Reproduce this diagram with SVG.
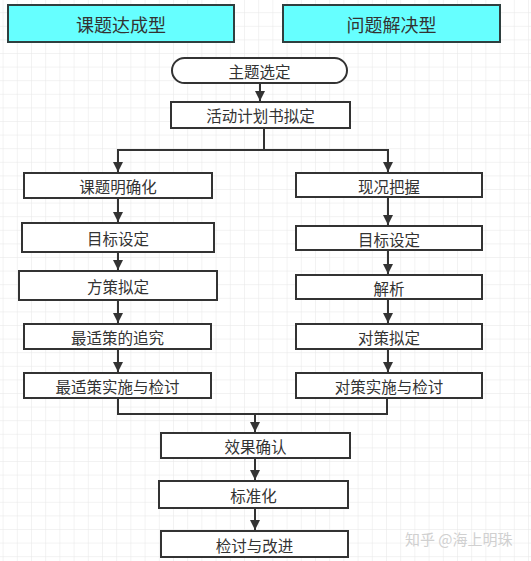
<svg xmlns="http://www.w3.org/2000/svg" width="531" height="561" viewBox="0 0 531 561">
<style>
.box{fill:#fff;stroke:#333;stroke-width:2}
.hdr{fill:#66ffff;stroke:#2f3f3f;stroke-width:2}
.t{font-family:"Noto Sans CJK SC","Noto Sans CJK JP",sans-serif;font-size:15.5px;fill:#333;text-anchor:middle;dominant-baseline:central}
.th{font-family:"Noto Sans CJK SC","Noto Sans CJK JP",sans-serif;font-size:18px;fill:#333;text-anchor:middle;dominant-baseline:central}
.ln{fill:none;stroke:#333;stroke-width:2}
.wm{font-family:"Noto Sans CJK SC","Noto Sans CJK JP",sans-serif;font-size:15px;fill:#d0d0d0;dominant-baseline:central}
</style>
<defs>
<pattern id="grid" x="2.6" y="-1.4" width="14.2" height="13.6" patternUnits="userSpaceOnUse">
<path d="M0 0H14.2M0 0V13.6" fill="none" stroke="#e6e6e6" stroke-width="1"/>
</pattern>
<marker id="ah" viewBox="0 0 10 10" refX="10" refY="5" markerWidth="5" markerHeight="5" markerUnits="strokeWidth" orient="auto">
<path d="M0 0L10 5L0 10Z" fill="#333"/>
</marker>
</defs>
<rect width="531" height="561" fill="#fff"/>
<rect width="531" height="561" fill="url(#grid)"/>

<g id="connectors">
<path class="ln" d="M260 83V101" marker-end="url(#ah)"/>
<path class="ln" d="M264 128V150H118V172" marker-end="url(#ah)"/>
<path class="ln" d="M264 150H388V172" marker-end="url(#ah)"/>
<path class="ln" d="M118 198V222" marker-end="url(#ah)"/>
<path class="ln" d="M118 252V270" marker-end="url(#ah)"/>
<path class="ln" d="M118 300V323" marker-end="url(#ah)"/>
<path class="ln" d="M118 349V372" marker-end="url(#ah)"/>
<path class="ln" d="M388 197V225" marker-end="url(#ah)"/>
<path class="ln" d="M388 250V274" marker-end="url(#ah)"/>
<path class="ln" d="M388 299V323" marker-end="url(#ah)"/>
<path class="ln" d="M388 349V372" marker-end="url(#ah)"/>
<path class="ln" d="M118 398V414H387V398"/>
<path class="ln" d="M255 414V432" marker-end="url(#ah)"/>
<path class="ln" d="M255 458V480" marker-end="url(#ah)"/>
<path class="ln" d="M255 508V530" marker-end="url(#ah)"/>
</g>

<g id="hdr-left"><rect class="hdr" x="8" y="5" width="226" height="37"/><text class="th" x="121" y="24">课题达成型</text></g>
<g id="hdr-right"><rect class="hdr" x="283" y="5" width="217" height="37"/><text class="th" x="391.5" y="24">问题解决型</text></g>

<g id="n-theme"><rect class="box" x="172" y="58" width="175" height="25" rx="12.5"/><text class="t" x="259.5" y="71">主题选定</text></g>
<g id="n-plan"><rect class="box" x="171" y="102" width="179" height="26"/><text class="t" x="260.5" y="115">活动计划书拟定</text></g>

<g id="l1"><rect class="box" x="24" y="173" width="188" height="25"/><text class="t" x="118" y="186">课题明确化</text></g>
<g id="l2"><rect class="box" x="22" y="223" width="192" height="29"/><text class="t" x="118" y="238">目标设定</text></g>
<g id="l3"><rect class="box" x="19" y="271" width="198" height="29"/><text class="t" x="118" y="286">方策拟定</text></g>
<g id="l4"><rect class="box" x="24" y="324" width="187" height="25"/><text class="t" x="117.5" y="337">最适策的追究</text></g>
<g id="l5"><rect class="box" x="24" y="373" width="187" height="25"/><text class="t" x="117.5" y="386">最适策实施与检讨</text></g>

<g id="r1"><rect class="box" x="296" y="173" width="186" height="24"/><text class="t" x="389" y="185.5">现况把握</text></g>
<g id="r2"><rect class="box" x="296" y="226" width="186" height="24"/><text class="t" x="389" y="238.5">目标设定</text></g>
<g id="r3"><rect class="box" x="296" y="275" width="186" height="24"/><text class="t" x="389" y="287.5">解析</text></g>
<g id="r4"><rect class="box" x="296" y="324" width="186" height="25"/><text class="t" x="389" y="337">对策拟定</text></g>
<g id="r5"><rect class="box" x="296" y="373" width="186" height="25"/><text class="t" x="389" y="386">对策实施与检讨</text></g>

<g id="b1"><rect class="box" x="161" y="433" width="189" height="25"/><text class="t" x="255.5" y="446">效果确认</text></g>
<g id="b2"><rect class="box" x="159" y="481" width="189" height="27"/><text class="t" x="253.5" y="495">标准化</text></g>
<g id="b3"><rect class="box" x="161" y="531" width="187" height="26"/><text class="t" x="254.5" y="544.5">检讨与改进</text></g>

<text class="wm" x="405" y="538">知乎 @海上明珠</text>
</svg>
